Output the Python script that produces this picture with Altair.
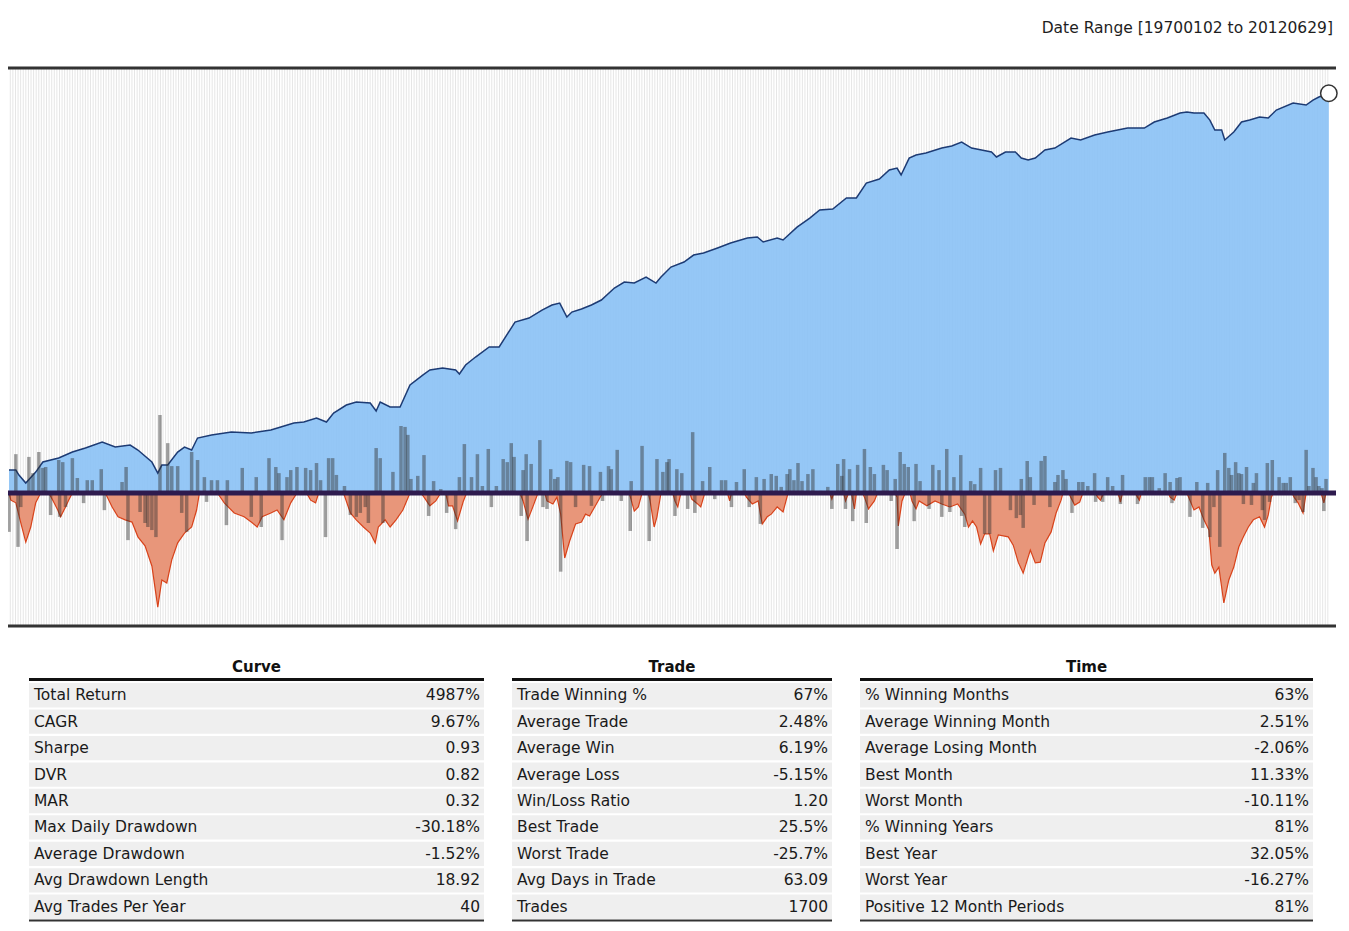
import altair as alt
import pandas as pd

# ---------------- data ----------------
eq_year = [
    1970.00, 1970.22, 1970.32, 1970.54, 1970.86, 1971.09, 1971.60, 1972.04, 1972.46, 1973.00,
    1973.42, 1973.90, 1974.15, 1974.60, 1974.79, 1974.92, 1975.11, 1975.43, 1975.65, 1975.88,
    1976.07, 1976.52, 1977.16, 1977.80, 1978.43, 1978.75, 1979.17, 1979.49, 1979.90, 1980.22,
    1980.45, 1980.86, 1981.18, 1981.63, 1981.82, 1981.95, 1982.27, 1982.59, 1982.91, 1983.32,
    1983.55, 1983.96, 1984.38, 1984.50, 1984.70, 1985.02, 1985.46, 1985.78, 1986.29, 1986.74,
    1987.16, 1987.48, 1987.73, 1987.96, 1988.12, 1988.43, 1988.75, 1989.07, 1989.49, 1989.81,
    1990.13, 1990.51, 1990.83, 1990.99, 1991.31, 1991.73, 1992.04, 1992.36, 1992.81, 1993.23,
    1993.77, 1994.09, 1994.28, 1994.73, 1994.92, 1995.37, 1995.78, 1996.10, 1996.52, 1996.96,
    1997.28, 1997.60, 1998.02, 1998.34, 1998.59, 1998.72, 1998.98, 1999.20, 1999.52, 2000.03,
    2000.35, 2000.67, 2000.99, 2001.31, 2001.63, 2001.79, 2002.08, 2002.40, 2002.59, 2002.81,
    2003.04, 2003.35, 2003.67, 2004.19, 2004.50, 2004.95, 2005.37, 2006.01, 2006.55, 2006.87,
    2007.29, 2007.70, 2007.92, 2008.15, 2008.47, 2008.66, 2008.82, 2009.04, 2009.14, 2009.43,
    2009.68, 2009.94, 2010.26, 2010.54, 2010.80, 2011.34, 2011.76, 2011.98, 2012.17, 2012.49,
]
eq_value = [
    1.00, 1.00, 0.949, 0.873, 0.979, 1.087, 1.133, 1.206, 1.258, 1.339,
    1.271, 1.298, 1.232, 1.087, 0.969, 1.053, 1.053, 1.206, 1.271, 1.232,
    1.396, 1.440, 1.486, 1.471, 1.518, 1.566, 1.633, 1.650, 1.720, 1.650,
    1.812, 1.970, 2.032, 2.011, 1.850, 2.032, 1.929, 1.929, 2.427, 2.693,
    2.838, 2.897, 2.838, 2.721, 2.989, 3.249, 3.607, 3.607, 4.680, 4.880,
    5.304, 5.588, 5.706, 4.931, 5.194, 5.360, 5.588, 5.888, 6.674, 7.102,
    7.029, 7.482, 7.029, 7.482, 8.307, 8.750, 9.412, 9.611, 10.13, 10.67,
    11.24, 11.36, 10.78, 11.24, 11.01, 12.60, 13.84, 15.05, 15.21, 17.06,
    17.06, 19.94, 20.79, 22.84, 23.33, 21.69, 25.88, 26.71, 27.28, 28.73,
    29.34, 30.59, 28.73, 28.14, 27.55, 26.16, 27.55, 27.55, 25.88, 25.35,
    25.88, 28.14, 28.73, 31.89, 31.24, 32.90, 33.95, 35.39, 35.39, 37.69,
    39.30, 41.39, 41.82, 41.39, 41.39, 38.47, 34.67, 34.67, 31.24, 33.95,
    37.69, 38.47, 39.69, 39.30, 42.70, 45.93, 45.00, 47.39, 48.90, 50.87,
]

dd_year = [
    1970.00, 1970.06, 1970.22, 1970.38, 1970.54, 1970.70, 1970.86, 1971.02, 1971.28, 1971.41,
    1971.57, 1971.66, 1971.82, 1971.92, 1972.04, 1973.10, 1973.32, 1973.51, 1973.74, 1973.96,
    1974.15, 1974.38, 1974.60, 1974.79, 1974.92, 1975.08, 1975.24, 1975.43, 1975.65, 1975.88,
    1976.04, 1976.13, 1976.71, 1976.93, 1977.25, 1977.57, 1977.83, 1977.99, 1978.15, 1978.43,
    1978.63, 1978.85, 1979.07, 1979.27, 1979.58, 1979.71, 1979.87, 1979.97, 1980.77, 1980.99,
    1981.18, 1981.41, 1981.63, 1981.79, 1981.89, 1982.11, 1982.27, 1982.46, 1982.68, 1982.91,
    1983.26, 1983.36, 1983.55, 1983.74, 1983.90, 1984.06, 1984.15, 1984.28, 1984.44, 1984.63,
    1984.73, 1986.45, 1986.55, 1986.71, 1986.84, 1987.03, 1987.25, 1987.32, 1987.51, 1987.64,
    1987.76, 1987.89, 1988.05, 1988.24, 1988.43, 1988.56, 1988.69, 1988.91, 1989.11, 1989.97,
    1990.13, 1990.26, 1990.38, 1990.58, 1990.64, 1990.77, 1990.86, 1990.99, 1991.37, 1991.44,
    1991.53, 1991.63, 1991.92, 1991.98, 1992.17, 1992.27, 1992.40, 1993.13, 1993.20, 1993.26,
    1993.67, 1993.74, 1993.93, 1994.12, 1994.19, 1994.25, 1994.41, 1994.54, 1994.73, 1994.92,
    1995.08, 1996.42, 1996.49, 1996.55, 1996.87, 1996.93, 1997.03, 1997.12, 1997.22, 1997.28,
    1997.48, 1997.54, 1997.67, 1997.86, 1997.96, 1998.53, 1998.59, 1998.63, 1998.75, 1998.85,
    1999.01, 1999.07, 1999.20, 1999.30, 1999.55, 1999.81, 2000.03, 2000.29, 2000.54, 2000.77,
    2000.89, 2001.02, 2001.15, 2001.28, 2001.41, 2001.57, 2001.69, 2001.85, 2002.17, 2002.33,
    2002.49, 2002.65, 2002.88, 2003.04, 2003.20, 2003.35, 2003.55, 2003.71, 2003.87, 2003.93,
    2004.12, 2004.19, 2004.31, 2004.47, 2004.57, 2004.98, 2005.05, 2005.14, 2005.24, 2005.69,
    2005.75, 2005.78, 2005.85, 2006.26, 2006.33, 2006.39, 2006.45, 2007.32, 2007.38, 2007.51,
    2007.60, 2007.92, 2008.15, 2008.31, 2008.47, 2008.63, 2008.72, 2008.82, 2008.95, 2009.11,
    2009.27, 2009.43, 2009.59, 2009.74, 2009.90, 2010.06, 2010.26, 2010.42, 2010.54, 2010.64,
    2010.70, 2011.31, 2011.37, 2011.50, 2011.66, 2011.76, 2012.24, 2012.33, 2012.40, 2012.49,
]
dd_pct = [
    0, -1.9, -2.6, -7.9, -13.0, -9.0, -2.6, 0, 0, -1.9,
    -4.5, -6.3, -3.7, -1.9, 0, 0, -3.7, -6.3, -7.1, -7.7,
    -11.6, -14.0, -19.3, -30.18, -23.0, -23.8, -17.7, -13.2, -10.6, -9.0,
    -4.5, 0, 0, -2.6, -5.3, -6.3, -7.9, -9.0, -6.3, -5.3,
    -4.5, -7.1, -2.6, 0, 0, -1.9, -2.6, 0, 0, -5.3,
    -7.1, -9.0, -10.6, -13.2, -9.0, -7.1, -9.0, -7.1, -4.5, 0,
    0, -1.1, -3.4, -2.1, 0, 0, -3.4, -3.4, -7.4, -2.1,
    0, 0, -2.1, -6.9, -4.2, 0, 0, -2.1, -2.9, -1.1,
    -5.6, -17.2, -12.7, -8.2, -7.7, -5.6, -6.1, -2.9, 0, 0,
    -4.8, -3.7, 0, 0, -2.1, -9.0, -6.3, 0, 0, -2.1,
    -3.7, 0, 0, -1.6, -2.9, -3.7, 0, 0, -2.1, 0,
    0, -1.1, -2.9, -2.1, -5.6, -8.2, -6.3, -5.6, -3.7, -5.0,
    0, 0, -1.6, 0, 0, -2.1, 0, 0, -4.2, 0,
    0, -1.1, -4.2, -2.1, 0, 0, -1.1, -8.7, -2.1, 0,
    0, -2.1, -4.2, -2.1, -3.4, -2.1, -2.9, -3.7, -2.9, -5.6,
    -9.0, -7.4, -9.0, -13.5, -10.8, -10.8, -15.3, -11.1, -11.6, -13.8,
    -18.3, -21.2, -15.1, -18.5, -18.3, -13.2, -10.3, -5.3, -1.9, 0,
    0, -1.3, -3.2, -2.4, 0, 0, -1.1, -1.9, 0, 0,
    -1.3, -2.4, 0, 0, -1.1, -1.9, 0, 0, -1.1, -1.9,
    0, 0, -4.5, -3.7, -7.1, -9.8, -19.0, -21.2, -19.6, -29.1,
    -23.0, -19.6, -14.3, -11.6, -9.0, -7.1, -6.3, -9.0, -5.8, -1.1,
    0, 0, -1.1, -2.6, -5.3, 0, 0, -2.6, 0, 0,
]

trade_year = [
    1970.00, 1970.22, 1970.29, 1970.38, 1970.64, 1970.77, 1970.96, 1971.09, 1971.18, 1971.34,
    1971.60, 1971.63, 1971.73, 1971.82, 1972.04, 1972.20, 1972.40, 1972.52, 1972.68, 1972.97,
    1973.07, 1973.64, 1973.77, 1973.83, 1974.22, 1974.38, 1974.47, 1974.60, 1974.73, 1974.86,
    1975.11, 1975.24, 1975.43, 1975.56, 1975.72, 1975.88, 1976.07, 1976.29, 1976.36, 1976.52,
    1976.71, 1977.00, 1977.03, 1977.51, 1977.80, 1977.96, 1978.12, 1978.37, 1978.59, 1978.69,
    1978.79, 1978.95, 1979.07, 1979.27, 1979.55, 1979.71, 1979.90, 1980.03, 1980.19, 1980.29,
    1980.42, 1980.54, 1980.80, 1980.99, 1981.18, 1981.31, 1981.47, 1981.57, 1981.82, 1981.95,
    1982.04, 1982.36, 1982.62, 1982.75, 1982.84, 1982.94, 1983.16, 1983.36, 1983.51, 1983.67,
    1983.90, 1984.09, 1984.38, 1984.50, 1984.66, 1984.89, 1985.08, 1985.24, 1985.43, 1985.53,
    1985.69, 1985.91, 1986.04, 1986.17, 1986.26, 1986.49, 1986.55, 1986.65, 1986.68, 1986.81,
    1987.09, 1987.19, 1987.32, 1987.44, 1987.57, 1987.67, 1987.76, 1987.96, 1988.08, 1988.24,
    1988.50, 1988.69, 1988.75, 1989.04, 1989.11, 1989.30, 1989.39, 1989.58, 1989.71, 1990.00,
    1990.03, 1990.38, 1990.61, 1990.86, 1991.05, 1991.18, 1991.25, 1991.44, 1991.50, 1991.66,
    1991.85, 1992.01, 1992.08, 1992.33, 1992.56, 1992.72, 1992.94, 1993.07, 1993.26, 1993.42,
    1993.67, 1993.83, 1994.06, 1994.19, 1994.31, 1994.54, 1994.70, 1994.86, 1995.05, 1995.14,
    1995.27, 1995.40, 1995.53, 1995.72, 1995.88, 1996.13, 1996.36, 1996.49, 1996.68, 1996.81,
    1996.87, 1996.93, 1997.06, 1997.16, 1997.32, 1997.54, 1997.60, 1997.73, 1997.86, 1998.15,
    1998.27, 1998.40, 1998.53, 1998.59, 1998.69, 1998.82, 1998.95, 1999.14, 1999.20, 1999.33,
    1999.62, 1999.74, 1999.94, 2000.03, 2000.19, 2000.29, 2000.42, 2000.64, 2000.67, 2000.77,
    2000.96, 2001.09, 2001.28, 2001.41, 2001.57, 2001.76, 2001.92, 2002.24, 2002.43, 2002.56,
    2002.59, 2002.65, 2002.78, 2002.88, 2003.00, 2003.23, 2003.35, 2003.51, 2003.67, 2003.77,
    2003.93, 2004.03, 2004.22, 2004.44, 2004.57, 2004.73, 2004.95, 2004.98, 2005.21, 2005.37,
    2005.53, 2005.78, 2005.85, 2006.33, 2006.58, 2006.71, 2006.81, 2007.03, 2007.22, 2007.38,
    2007.44, 2007.60, 2007.70, 2008.02, 2008.24, 2008.43, 2008.59, 2008.66, 2008.79, 2008.91,
    2008.98, 2009.14, 2009.27, 2009.36, 2009.49, 2009.59, 2009.68, 2009.74, 2009.84, 2010.00,
    2010.06, 2010.16, 2010.35, 2010.42, 2010.51, 2010.58, 2010.67, 2010.80, 2010.89, 2011.02,
    2011.12, 2011.25, 2011.41, 2011.53, 2011.66, 2011.76, 2011.85, 2011.98, 2012.08, 2012.17,
    2012.27, 2012.33, 2012.40,
]
trade_ret = [
    -12.7, 12.7, -17.6, -4.6, 11.8, 6.5, 13.4, 8.2, 8.5, -7.2,
    10.8, -7.8, 10.1, -4.6, 11.4, 4.9, -3.3, 4.2, 4.2, 7.8,
    -5.6, 3.6, 8.5, -15.4, -6.2, -9.8, -11.1, -12.1, -14.4, 25.5,
    16.3, 8.8, 8.8, -6.5, -12.7, 13.4, 10.8, 5.2, -2.9, 4.2,
    4.2, -10.5, 4.2, 8.2, -7.8, 5.2, -11.1, 11.4, 8.5, 6.5,
    -15.4, 5.2, 7.5, 8.5, 8.2, 7.5, 9.8, 4.2, -14.4, 11.4,
    11.4, 5.9, 2.3, -7.2, -7.8, -6.5, -4.6, -9.8, 14.7, 11.4,
    -9.8, 6.9, 21.9, 21.6, 19.0, 4.6, 5.6, 12.4, -7.5, 3.9,
    1.3, -6.5, -11.8, 5.2, 16.0, 5.2, 12.7, 2.3, 14.4, -4.6,
    2.3, 11.1, 10.1, 16.3, 11.8, -7.5, 7.5, 12.7, -15.7, 9.5,
    17.3, -4.6, -5.2, 7.8, 4.6, 5.2, -25.7, 10.5, 10.1, -4.6,
    9.2, 8.8, -4.2, 6.9, -2.6, 8.8, 7.8, 14.1, -2.6, -12.4,
    3.9, 15.4, -15.7, 11.1, 6.9, 10.1, 11.1, -7.5, 7.8, 6.5,
    -5.2, 19.9, -6.5, 3.9, 8.5, -2.0, 4.2, 4.2, -4.6, 3.6,
    7.8, -4.6, 5.2, -10.1, 4.6, 6.2, 5.6, 2.0, 6.2, 7.8,
    4.2, 9.8, 3.9, 6.2, 7.8, 0.7, 2.0, -5.2, 9.5, 5.6,
    11.1, -5.2, 7.8, -9.2, 9.2, 14.4, -9.8, 8.5, 6.2, 9.2,
    7.5, -2.6, 4.6, -18.3, 13.4, 9.5, 8.5, -9.2, 9.5, 3.9,
    -5.2, 9.2, 7.5, -7.8, 14.4, -6.2, 5.2, 12.4, -7.5, -11.1,
    3.9, 2.9, 8.2, -13.4, -13.4, 7.5, 8.2, -5.6, -8.2, -7.2,
    4.6, -11.4, 10.5, 5.2, -3.9, 10.5, 12.1, -4.6, 3.6, 5.9,
    7.5, 4.6, -6.5, 3.6, 3.6, 2.3, 6.5, -2.9, -2.9, 5.2,
    2.3, -3.6, 5.9, -3.6, 5.2, 5.2, 5.2, 1.6, 6.5, 3.6,
    -3.3, 4.9, 5.2, -7.8, 3.6, -11.4, 3.3, -14.4, -4.6, 7.5,
    -17.6, 13.1, 8.2, 5.9, 10.1, 6.5, 6.2, -3.6, 8.5, -3.9,
    3.3, 6.5, -5.6, -8.8, 9.8, -2.9, 10.8, 0.5, 5.2, 3.3,
    3.3, 5.2, -3.3, -2.3, -6.2, 14.1, 2.3, 8.2, 5.2, 2.3,
    1.6, -5.9, 4.6,
]

date_range_label = "Date Range [19700102 to 20120629]"

curve_title = "Curve"
curve_labels = ["Total Return", "CAGR", "Sharpe", "DVR", "MAR", "Max Daily Drawdown",
                "Average Drawdown", "Avg Drawdown Length", "Avg Trades Per Year"]
curve_values = ["4987%", "9.67%", "0.93", "0.82", "0.32", "-30.18%", "-1.52%", "18.92", "40"]

trade_title = "Trade"
trade_labels = ["Trade Winning %", "Average Trade", "Average Win", "Average Loss", "Win/Loss Ratio",
                "Best Trade", "Worst Trade", "Avg Days in Trade", "Trades"]
trade_values = ["67%", "2.48%", "6.19%", "-5.15%", "1.20", "25.5%", "-25.7%", "63.09", "1700"]

time_title = "Time"
time_labels = ["% Winning Months", "Average Winning Month", "Average Losing Month", "Best Month",
               "Worst Month", "% Winning Years", "Best Year", "Worst Year", "Positive 12 Month Periods"]
time_values = ["63%", "2.51%", "-2.06%", "11.33%", "-10.11%", "81%", "32.05%", "-16.27%", "81%"]

# ---------------- styling / layout ----------------
FONT = "DejaVu Sans"
W = 1332
H = 558
X_DOMAIN = [1970.0, 2012.56]
EQ_DOMAIN = [0.1966, 66.2]
EQ_BASE = 0.787
DD_DOMAIN = [-35.19, 112.43]
TR_DOMAIN = [-43.46, 138.9]
ZERO_HALF = 0.66  # half thickness of the zero band, drawdown units

eq_df = pd.DataFrame({"year": eq_year, "eq": eq_value})
end_df = pd.DataFrame({"year": [eq_year[-1]], "eq": [eq_value[-1]]})
dd_df = pd.DataFrame({"year": dd_year, "dd": dd_pct})
tr_df = pd.DataFrame({"year": trade_year, "ret": trade_ret})
grid_df = pd.DataFrame({"year": [1970 + (i + 0.5) / 12 for i in range(510)]})
one_df = pd.DataFrame({"k": [0]})
title_df = pd.DataFrame({"t": [date_range_label]})

x_enc = alt.X("year:Q", scale=alt.Scale(domain=X_DOMAIN, nice=False, zero=False), axis=None)
eq_y = alt.Y("eq:Q", scale=alt.Scale(type="log", domain=EQ_DOMAIN), axis=None)
dd_scale = alt.Scale(domain=DD_DOMAIN)

grid = alt.Chart(grid_df).mark_rule(color="#e6e6e6", strokeWidth=1).encode(x=x_enc)

eq_area = alt.Chart(eq_df).mark_area(color="#8cc2f5", opacity=0.92, clip=True).encode(
    x=x_enc, y=eq_y, y2=alt.datum(EQ_BASE))

eq_line = alt.Chart(eq_df).mark_line(color="#1d3b74", strokeWidth=1.5).encode(x=x_enc, y=eq_y)

dd_area = alt.Chart(dd_df).mark_area(
    color="#e8967a", opacity=1, clip=True,
    line=alt.OverlayMarkDef(color="#d8431b", strokeWidth=1.2)
).encode(
    x=x_enc,
    y=alt.Y("dd:Q", scale=dd_scale, axis=None),
    y2=alt.datum(0),
)

bars = alt.Chart(tr_df).mark_bar(size=3.5, color="#303030", opacity=0.45, clip=True).encode(
    x=x_enc,
    y=alt.Y("ret:Q", scale=alt.Scale(domain=TR_DOMAIN), axis=None, stack=None),
)

zero_band = alt.Chart(one_df).mark_rect(color="#2e1b4e").encode(
    x=alt.value(0), x2=alt.value(W),
    y=alt.YDatum(ZERO_HALF, scale=dd_scale, axis=None),
    y2=alt.Y2Datum(-ZERO_HALF),
)

end_pt = alt.Chart(end_df).mark_point(
    shape="circle", filled=True, fill="white", stroke="#333333", strokeWidth=1.5, size=270, opacity=1
).encode(x=x_enc, y=eq_y)

border_top = alt.Chart(one_df).mark_rect(color="#333333").encode(
    x=alt.value(0), x2=alt.value(W), y=alt.value(-1.5), y2=alt.value(1.5))
border_bottom = alt.Chart(one_df).mark_rect(color="#333333").encode(
    x=alt.value(0), x2=alt.value(W), y=alt.value(H - 1.5), y2=alt.value(H + 1.5))

title_txt = alt.Chart(title_df).mark_text(
    align="right", baseline="alphabetic", font=FONT, fontSize=15.5, color="#1e1e1e"
).encode(x=alt.value(W - 3), y=alt.value(-35), text="t:N")

top = alt.layer(
    grid, eq_area, eq_line, dd_area, bars, zero_band, end_pt, border_top, border_bottom, title_txt
).resolve_scale(y="independent").properties(width=W, height=H)


def make_table(title, labels, values, width, x0):
    df = pd.DataFrame({"row": list(range(len(labels))), "label": labels, "value": values})
    y = alt.Y("row:O", axis=None, scale=alt.Scale(paddingInner=0.08, paddingOuter=0.04))
    base = alt.Chart(df)
    rows = base.mark_rect(color="#efefef").encode(y=y, x=alt.value(x0), x2=alt.value(width))
    lab = base.mark_text(align="left", baseline="middle", font=FONT, fontSize=15.5,
                         color="#1a1a1a").encode(y=y, x=alt.value(x0 + 5), text="label:N")
    val = base.mark_text(align="right", baseline="middle", font=FONT, fontSize=15.5,
                         color="#1a1a1a").encode(y=y, x=alt.value(width - 4), text="value:N")
    head = alt.Chart(pd.DataFrame({"t": [title]})).mark_text(
        align="center", baseline="alphabetic", font=FONT, fontSize=15, fontWeight="bold",
        color="#111111").encode(x=alt.value((x0 + width) / 2), y=alt.value(-10), text="t:N")
    thick = alt.Chart(one_df).mark_rect(color="#111111").encode(
        x=alt.value(x0), x2=alt.value(width), y=alt.value(-4), y2=alt.value(-1))
    bottom = alt.Chart(one_df).mark_rect(color="#333333").encode(
        x=alt.value(x0), x2=alt.value(width), y=alt.value(237.5), y2=alt.value(239.5))
    return alt.layer(rows, lab, val, head, thick, bottom).properties(width=width, height=238)


t1 = make_table(curve_title, curve_labels, curve_values, 480, 25)
t2 = make_table(trade_title, trade_labels, trade_values, 320, 0)
t3 = make_table(time_title, time_labels, time_values, 453, 0)

tables = alt.hconcat(t1, t2, t3, spacing=26)

chart = alt.vconcat(top, tables, spacing=31).properties(
    padding={"left": -5, "top": 12, "right": 0, "bottom": 0}
).configure_view(stroke="transparent")

chart.save("out.html", embed_options={"renderer": "svg", "actions": False})
